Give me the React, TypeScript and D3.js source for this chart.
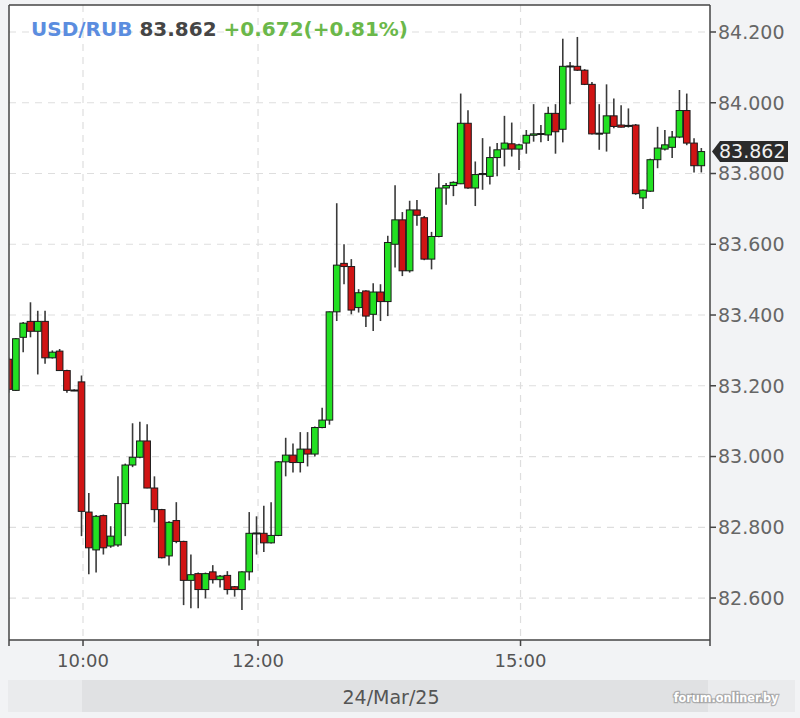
import React from "react";
import * as d3 from "d3";

const times = [
  "09:10","09:15","09:20","09:25","09:30","09:35","09:40","09:45","09:50","09:55",
  "10:00","10:05","10:10","10:15","10:20","10:25","10:30","10:35","10:40","10:45",
  "10:50","10:55","11:00","11:05","11:10","11:15","11:20","11:25","11:30","11:35",
  "11:40","11:45","11:50","11:55","12:00","12:05","12:10","12:15","12:20","12:25",
  "12:30","12:35","12:40","12:45","12:50","12:55","13:00","13:05","13:10","13:15",
  "13:20","13:25","13:30","13:35","13:40","13:45","13:50","13:55","14:00","14:05",
  "14:10","14:15","14:20","14:25","14:30","14:35","14:40","14:45","14:50","14:55",
  "15:00","15:05","15:10","15:15","15:20","15:25","15:30","15:35","15:40","15:45",
  "15:50","15:55","16:00","16:05","16:10","16:15","16:20","16:25","16:30","16:35",
  "16:40","16:45","16:50","16:55","17:00","17:05",
];

const opens = [
  83.275,83.187,83.337,83.382,83.354,83.382,83.279,83.298,83.243,83.188,
  83.211,82.843,82.736,82.833,82.747,82.750,82.867,82.976,82.998,83.044,
  82.911,82.850,82.719,82.819,82.760,82.650,82.669,82.624,82.674,82.652,
  82.664,82.632,82.624,82.674,82.783,82.783,82.756,82.777,82.985,83.004,
  82.983,83.021,83.007,83.082,83.103,83.409,83.546,83.537,83.421,83.468,
  83.402,83.465,83.438,83.600,83.669,83.525,83.697,83.675,83.558,83.622,
  83.759,83.766,83.771,83.942,83.759,83.797,83.792,83.845,83.869,83.884,
  83.869,83.886,83.908,83.912,83.909,83.970,83.925,84.103,84.103,84.092,
  84.052,83.912,83.914,83.963,83.937,83.935,83.937,83.731,83.750,83.839,
  83.869,83.874,83.903,83.978,83.886,83.822,
];

const highs = [
  83.280,83.335,83.380,83.436,83.412,83.412,83.300,83.304,83.245,83.190,
  83.229,82.897,82.835,82.836,82.803,82.944,82.980,83.094,83.098,83.091,
  82.944,82.852,82.817,82.871,82.762,82.723,82.672,82.672,82.693,82.665,
  82.676,82.634,82.676,82.843,82.831,82.861,82.871,82.987,83.053,83.037,
  83.069,83.069,83.085,83.138,83.410,83.716,83.600,83.558,83.473,83.470,
  83.490,83.487,83.624,83.767,83.691,83.723,83.725,83.680,83.635,83.801,
  83.773,83.778,84.026,83.979,83.834,83.900,83.876,83.886,83.963,83.944,
  83.884,83.923,83.996,83.937,83.989,83.996,84.181,84.115,84.186,84.095,
  84.059,83.996,84.052,84.012,83.993,83.984,83.940,83.755,83.842,83.932,
  83.923,83.920,84.036,84.026,83.900,83.872,
];

const lows = [
  83.180,83.185,83.295,83.337,83.232,83.262,83.277,83.242,83.180,83.185,
  82.775,82.667,82.672,82.723,82.742,82.745,82.775,82.970,82.995,82.910,
  82.814,82.712,82.692,82.755,82.580,82.571,82.571,82.599,82.641,82.630,
  82.610,82.604,82.566,82.650,82.723,82.730,82.754,82.775,82.944,82.955,
  82.955,82.972,83.000,83.080,83.090,83.383,83.487,83.402,83.407,83.366,
  83.355,83.383,83.397,83.534,83.510,83.520,83.652,83.555,83.529,83.620,
  83.712,83.736,83.770,83.757,83.708,83.754,83.769,83.792,83.820,83.848,
  83.810,83.856,83.890,83.888,83.892,83.856,83.888,83.996,84.090,84.050,
  83.910,83.867,83.862,83.928,83.930,83.930,83.740,83.700,83.748,83.815,
  83.865,83.844,83.900,83.880,83.803,83.803,
];

const closes = [
  83.190,83.333,83.377,83.354,83.382,83.279,83.295,83.243,83.187,83.187,
  82.845,82.742,82.831,82.742,82.775,82.867,82.976,82.998,83.044,82.911,
  82.850,82.714,82.814,82.760,82.650,82.666,82.624,82.669,82.652,82.662,
  82.624,82.624,82.674,82.783,82.784,82.756,82.777,82.985,83.004,82.983,
  83.021,83.007,83.082,83.103,83.409,83.541,83.537,83.414,83.463,83.397,
  83.465,83.438,83.605,83.669,83.525,83.697,83.682,83.558,83.622,83.759,
  83.766,83.775,83.942,83.759,83.797,83.800,83.845,83.867,83.886,83.869,
  83.881,83.908,83.912,83.913,83.970,83.918,84.103,84.104,84.092,84.052,
  83.912,83.914,83.963,83.933,83.931,83.936,83.743,83.753,83.839,83.872,
  83.881,83.903,83.978,83.886,83.822,83.862,
];

const yTicks = [82.6, 82.8, 83.0, 83.2, 83.4, 83.6, 83.8, 84.0, 84.2];
const xTickLabels = ["10:00", "12:00", "15:00"];
const symbol = "USD/RUB";
const lastPrice = "83.862";
const change = "+0.672(+0.81%)";
const dateLabel = "24/Mar/25";
const watermark = "forum.onliner.by";

const W = 800;
const H = 718;
const L = 9;
const R = 710;
const T = 5;
const B = 640;

const parse = d3.timeParse("%H:%M:%S");
const parseHM = d3.timeParse("%H:%M");

export default function App() {
  const x = d3
    .scaleTime()
    .domain([parse("09:09:15") as Date, parse("17:09:55") as Date])
    .range([L, R]);
  const y = d3.scaleLinear().domain([82.4814, 84.2763]).range([B, T]);
  const fmt = d3.format(".3f");

  const candles = times.map((t, i) => ({
    t: parseHM(t) as Date,
    o: opens[i],
    h: highs[i],
    l: lows[i],
    c: closes[i],
  }));
  const bodyW = 6.6;
  const shift = -1.5;

  const axisFont = "'DejaVu Sans', sans-serif";

  return (
    <svg
      width={W}
      height={H}
      style={{ position: "absolute", left: 0, top: 0, display: "block" }}
    >
      <defs>
        <clipPath id="plotclip">
          <rect x={L} y={T} width={R - L} height={B - T} />
        </clipPath>
      </defs>
      <rect x={0} y={0} width={W} height={H} fill="#f2f3f5" />
      <rect x={L} y={T} width={R - L} height={B - T} fill="#ffffff" />

      {/* grid */}
      {yTicks.map((v) => (
        <line
          key={"gy" + v}
          x1={L}
          x2={R}
          y1={y(v)}
          y2={y(v)}
          stroke="#dedede"
          strokeWidth={1.2}
          strokeDasharray="7,6"
        />
      ))}
      {xTickLabels.map((s) => (
        <line
          key={"gx" + s}
          x1={x(parseHM(s) as Date)}
          x2={x(parseHM(s) as Date)}
          y1={T}
          y2={B}
          stroke="#dedede"
          strokeWidth={1.2}
          strokeDasharray="7,6"
        />
      ))}

      {/* candles */}
      <g clipPath="url(#plotclip)">
        {candles.map((d, i) => {
          const cx = x(d.t) + shift;
          const up = d.c >= d.o;
          const top = y(Math.max(d.o, d.c));
          const bot = y(Math.min(d.o, d.c));
          return (
            <g key={i}>
              <line
                x1={cx}
                x2={cx}
                y1={y(d.h)}
                y2={y(d.l)}
                stroke="#3a3a3a"
                strokeWidth={1.6}
              />
              <rect
                x={cx - bodyW / 2}
                y={top}
                width={bodyW}
                height={Math.max(1, bot - top)}
                fill={up ? "#22e022" : "#d01414"}
                stroke="#1a1a1a"
                strokeWidth={1}
              />
            </g>
          );
        })}
      </g>

      {/* frame */}
      <line x1={L} x2={R} y1={T} y2={T} stroke="#444" strokeWidth={1.5} />
      <line x1={L} x2={L} y1={T} y2={B + 6} stroke="#444" strokeWidth={1.5} />
      <line x1={L} x2={R} y1={B} y2={B} stroke="#444" strokeWidth={1.5} />
      <line x1={R} x2={R} y1={T} y2={B + 6} stroke="#444" strokeWidth={1.5} />

      {/* right axis */}
      {yTicks.map((v) => (
        <g key={"ty" + v}>
          <line x1={R} x2={R + 6} y1={y(v)} y2={y(v)} stroke="#444" strokeWidth={1.5} />
          <text
            x={R + 8}
            y={y(v)}
            dy="0.36em"
            fontFamily={axisFont}
            fontSize={19}
            fill="#666"
          >
            {fmt(v)}
          </text>
        </g>
      ))}

      {/* bottom axis */}
      {xTickLabels.map((s) => {
        const xx = x(parseHM(s) as Date);
        return (
          <g key={"tx" + s}>
            <line x1={xx} x2={xx} y1={B} y2={B + 6} stroke="#444" strokeWidth={1.5} />
            <text
              x={xx}
              y={B + 21}
              dy="0.36em"
              textAnchor="middle"
              fontFamily={axisFont}
              fontSize={18}
              fill="#555"
            >
              {s}
            </text>
          </g>
        );
      })}

      {/* last price tag */}
      {(() => {
        const py = y(+lastPrice);
        const x0 = R + 2;
        const path = `M${x0},${py} L${x0 + 8},${py - 10.5} L${788},${py - 10.5} L${788},${py + 10.5} L${x0 + 8},${py + 10.5} Z`;
        return (
          <g>
            <path d={path} fill="#2b2b2b" />
            <text
              x={R + 9}
              y={py}
              dy="0.36em"
              fontFamily={axisFont}
              fontSize={19}
              fill="#f0f0f0"
            >
              {lastPrice}
            </text>
          </g>
        );
      })()}

      {/* header */}
      <text
        x={31}
        y={36}
        fontFamily="'DejaVu Sans', sans-serif"
        fontWeight="bold"
        fontSize={20}
      >
        <tspan fill="#5b8ddf">{symbol}</tspan>
        <tspan fill="#454545"> {lastPrice}</tspan>
        <tspan fill="#6bb84a"> {change}</tspan>
      </text>

      {/* date bar */}
      <rect x={8} y={680} width={787} height={32} fill="#eaebed" />
      <rect x={82} y={680} width={626} height={32} fill="#e0e1e3" />
      <text
        x={391}
        y={697}
        dy="0.36em"
        textAnchor="middle"
        fontFamily={axisFont}
        fontSize={19}
        fill="#555"
      >
        {dateLabel}
      </text>
      <text
        x={726}
        y={697}
        dy="0.36em"
        textAnchor="middle"
        fontFamily={axisFont}
        fontStretch="condensed"
        fontWeight="bold"
        fontSize={12.5}
        fill="#fff"
        stroke="#8a8a8a"
        strokeWidth={2.5}
        strokeOpacity={0.6}
        paintOrder="stroke"
      >
        {watermark}
      </text>
    </svg>
  );
}
